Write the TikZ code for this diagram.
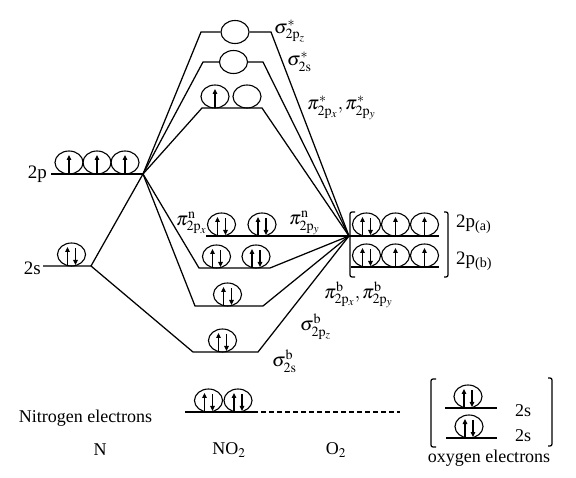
\RequirePackage{fix-cm}
\documentclass[tikz,border=0pt]{standalone}
\usepackage{mathptmx}
\usepackage{fontspec}
\setmainfont{Liberation Serif}
\usetikzlibrary{arrows.meta,shapes.geometric}
\tikzset{
  lvl/.style={line width=1.25pt},
  orb/.style={draw, ellipse, minimum width=28pt, minimum height=23pt, inner sep=0pt, line width=1.1pt},
  el/.style={line width=1.1pt, -{Triangle[length=5pt,width=4.5pt]}},
  lab/.style={font=\fontsize{19}{22}\selectfont, inner sep=0pt},
  big/.style={font=\fontsize{19}{22}\selectfont, inner sep=0pt},
  btm/.style={font=\fontsize{18}{21}\selectfont, inner sep=0pt},
  pics/orbE/.style={code={\node[orb] (-c) at (0,-11.5) {};}},
  pics/orbU/.style={code={\node[orb] (-c) at (0,-11.5) {}; \draw[el] (0,0) -- (0,-19);}},
  pics/orbUD/.style={code={\node[orb] (-c) at (0,-11.5) {};
      \draw[el] (-4,0) -- (-4,-19); \draw[el] (4,-18) -- (4,-1);}},
  pics/orbM/.style={code={\node[orb] (-c) at (0,0) {};}},
}
\begin{document}
\begin{tikzpicture}[x=1pt,y=-1pt]
\useasboundingbox (0,0) rectangle (576,478);
% key points
\coordinate (N2p) at (143,174);
\coordinate (N2pL) at (51,174);
\coordinate (N2sL) at (43,266);
\coordinate (N2s) at (91,266);
\coordinate (O) at (349,236);
\coordinate (Oa) at (439,236);
\coordinate (ObL) at (351,267);
\coordinate (ObR) at (439,267);
\coordinate (szL) at (201,32);  \coordinate (szR) at (271,32);
\coordinate (ssL) at (203,62);  \coordinate (ssR) at (263,62);
\coordinate (psL) at (202,108); \coordinate (psR) at (262,108);
\coordinate (pnL) at (206,236);
\coordinate (pbL) at (199,268); \coordinate (pbR) at (270,268);
\coordinate (bzL) at (195,306); \coordinate (bzR) at (263,306);
\coordinate (bsL) at (193,352); \coordinate (bsR) at (258,352);

% orbitals
\pic (sz) at (235,32) {orbM};
\pic (ss) at (233.5,62) {orbM};
\pic (ps1) at (215,108) {orbU};
\pic (ps2) at (247,108) {orbE};
\pic (pn1) at (221.5,236) {orbUD};
\pic (pn2) at (262,236) {orbUD};
\pic (pb1) at (216.5,268) {orbUD};
\pic (pb2) at (256,268) {orbUD};
\pic (bz) at (227.5,306) {orbUD};
\pic (bs) at (222.5,352) {orbUD};
\pic (n1) at (69,174) {orbU};
\pic (n2) at (97,174) {orbU};
\pic (n3) at (125,174) {orbU};
\pic (ns) at (71.5,266) {orbUD};
\pic (oa1) at (366.5,236) {orbUD};
\pic (oa2) at (395.5,236) {orbU};
\pic (oa3) at (424.5,236) {orbU};
\pic (ob1) at (366.5,267) {orbUD};
\pic (ob2) at (395.5,267) {orbU};
\pic (ob3) at (424.5,267) {orbU};

% levels and correlation lines
\draw[lvl] (N2pL) -- (N2p);
\draw[lvl] (N2sL) -- (N2s) -- (N2p);
\draw[lvl] (N2s) -- (bsL) -- (bsR) -- (O);
\draw[lvl] (N2p) -- (szL) -- (sz-c.west);
\draw[lvl] (sz-c.east) -- (szR) -- (O);
\draw[lvl] (N2p) -- (ssL) -- (ss-c.west);
\draw[lvl] (ss-c.east) -- (ssR) -- (O);
\draw[lvl] (N2p) -- (psL) -- (psR) -- (O);
\draw[lvl] (pnL) -- (O);
\draw[lvl] (N2p) -- (pbL) -- (pbR) -- (O);
\draw[lvl] (N2p) -- (bzL) -- (bzR) -- (O);
\draw[lvl] (O) -- (Oa);
\draw[lvl] (ObL) -- (ObR);
\draw[lvl, rounded corners=2pt] (355,212) -- (350,212) -- (350,277) -- (355,277);
\draw[lvl, rounded corners=2pt] (444,212) -- (448,212) -- (448,277) -- (444,277);

% labels
\node[big, anchor=east] (l2p) at (47,174) {2p};
\node[big, anchor=east] (l2s) at (41,268) {2s};
\node[lab, anchor=west] (lsz) at (274,31) {$\sigma^{*}_{2\mathrm{p}_z}$};
\node[lab, anchor=west] (lss) at (287,62) {$\sigma^{*}_{2\mathrm{s}}$};
\node[lab, anchor=west] (lps) at (307,108) {$\pi^{*}_{2\mathrm{p}_x},\pi^{*}_{2\mathrm{p}_y}$};
\node[lab, anchor=east] (lpnx) at (207,223) {$\pi^{\mathrm{n}}_{2\mathrm{p}_x}$};
\node[lab, anchor=west] (lpny) at (289,223) {$\pi^{\mathrm{n}}_{2\mathrm{p}_y}$};
\node[lab, anchor=west] (lpb) at (324,295) {$\pi^{\mathrm{b}}_{2\mathrm{p}_x},\pi^{\mathrm{b}}_{2\mathrm{p}_y}$};
\node[lab, anchor=west] (lbz) at (300,327) {$\sigma^{\mathrm{b}}_{2\mathrm{p}_z}$};
\node[lab, anchor=west] (lbs) at (272,361) {$\sigma^{\mathrm{b}}_{2\mathrm{s}}$};
\node[big, anchor=west] (l2pa) at (456,224) {2p\textsubscript{(a)}};
\node[big, anchor=west] (l2pb) at (456,261) {2p\textsubscript{(b)}};

% bottom
\coordinate (cL) at (185,412);
\coordinate (cR) at (253,412);
\coordinate (dE) at (400,412);
\pic (c1) at (208.5,412) {orbUD};
\pic (c2) at (238,412) {orbUD};
\draw[lvl] (cL) -- (cR);
\draw[lvl, dash pattern=on 5pt off 3pt] (cR) -- (dE);
\node[btm] (ne) at (85.5,418) {Nitrogen electrons};
\node[btm] (lN) at (100,450) {N};
\node[btm] (lNO) at (229,450) {NO$_2$};
\node[btm] (lO) at (336,450) {O$_2$};
\coordinate (s1L) at (445,408); \coordinate (s1R) at (497,408);
\coordinate (s2L) at (446,438); \coordinate (s2R) at (497,438);
\pic (os1) at (468,408) {orbUD};
\pic (os2) at (469,438) {orbUD};
\draw[lvl] (s1L) -- (s1R);
\draw[lvl] (s2L) -- (s2R);
\draw[lvl, rounded corners=2pt] (436,379) -- (431,379) -- (431,447) -- (436,447);
\draw[lvl, rounded corners=2pt] (548,378) -- (552,378) -- (552,446) -- (548,446);
\node[btm] (l2s1) at (523,411) {2s};
\node[btm] (l2s2) at (523,436) {2s};
\node[btm] (oe) at (489,458) {oxygen electrons};
\end{tikzpicture}
\end{document}
